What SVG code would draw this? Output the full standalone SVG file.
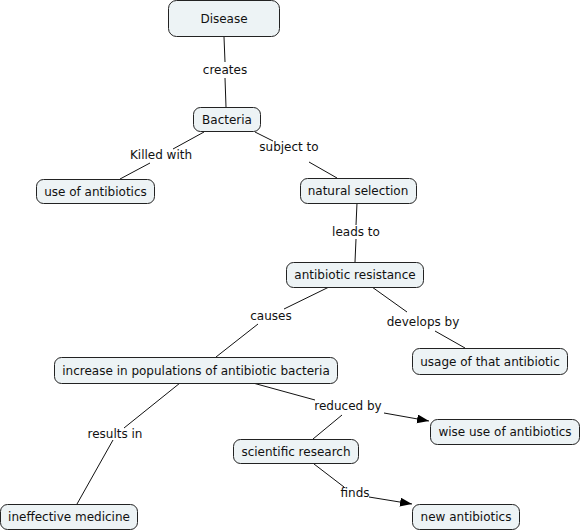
<svg xmlns="http://www.w3.org/2000/svg" width="582" height="532" viewBox="0 0 582 532">
<defs>
<style>
.node rect{fill:#edf3f5;stroke:#222;stroke-width:1}
text{font-family:"DejaVu Sans","Liberation Sans",sans-serif;font-size:12px;fill:#111;text-anchor:middle}
.conn line{stroke:#111;stroke-width:1}
</style>
<marker id="arr" markerUnits="userSpaceOnUse" markerWidth="13" markerHeight="10" refX="12" refY="4.5" orient="auto">
<path d="M0,0 L12,4.5 L0,9 z" fill="#000"/>
</marker>
</defs>
<rect width="582" height="532" fill="#fff"/>
<g id="connectors" class="conn">
<line x1="224" y1="37" x2="225" y2="62"/>
<line x1="225" y1="78" x2="226" y2="107"/>
<line x1="204" y1="132" x2="173" y2="149"/>
<line x1="150" y1="163" x2="120" y2="179"/>
<line x1="255" y1="132" x2="273" y2="141"/>
<line x1="309" y1="162" x2="337" y2="178"/>
<line x1="357" y1="203" x2="356" y2="225"/>
<line x1="356" y1="239" x2="355" y2="262"/>
<line x1="329" y1="287" x2="284" y2="309"/>
<line x1="258" y1="324" x2="216" y2="357"/>
<line x1="372" y1="287" x2="407" y2="312"/>
<line x1="435" y1="331" x2="465" y2="348"/>
<line x1="180" y1="383" x2="124" y2="428"/>
<line x1="113" y1="440" x2="77" y2="504"/>
<line x1="253" y1="383" x2="315" y2="400"/>
<line x1="384" y1="413" x2="429" y2="421" marker-end="url(#arr)"/>
<line x1="342" y1="415" x2="313" y2="439"/>
<line x1="314" y1="464" x2="344" y2="487"/>
<line x1="369" y1="497" x2="412" y2="504" marker-end="url(#arr)"/>
</g>
<g id="labels">
<text x="225" y="74">creates</text>
<text x="161" y="159">Killed with</text>
<text x="289" y="151">subject to</text>
<text x="356" y="236">leads to</text>
<text x="271" y="320">causes</text>
<text x="423" y="326">develops by</text>
<text x="115" y="438">results in</text>
<text x="348" y="410">reduced by</text>
<text x="355" y="497">finds</text>
</g>
<g id="disease" class="node"><rect x="168.5" y="0.5" width="111" height="36" rx="8"/><text x="224" y="23">Disease</text></g>
<g id="bacteria" class="node"><rect x="193.5" y="107.5" width="67" height="24" rx="7"/><text x="227" y="124">Bacteria</text></g>
<g id="use-of-antibiotics" class="node"><rect x="36.5" y="179.5" width="118" height="24" rx="7"/><text x="95.5" y="196">use of antibiotics</text></g>
<g id="natural-selection" class="node"><rect x="300.5" y="178.5" width="116" height="25" rx="7"/><text x="358" y="195">natural selection</text></g>
<g id="antibiotic-resistance" class="node"><rect x="286.5" y="262.5" width="137" height="25" rx="7"/><text x="355" y="279">antibiotic resistance</text></g>
<g id="usage" class="node"><rect x="412.5" y="348.5" width="155" height="26" rx="7"/><text x="490" y="366">usage of that antibiotic</text></g>
<g id="increase" class="node"><rect x="54.5" y="357.5" width="283" height="26" rx="7"/><text x="196" y="375">increase in populations of antibiotic bacteria</text></g>
<g id="wise-use" class="node"><rect x="430.5" y="419.5" width="149" height="25" rx="7"/><text x="505" y="436">wise use of antibiotics</text></g>
<g id="scientific-research" class="node"><rect x="233.5" y="439.5" width="125" height="24" rx="7"/><text x="296" y="456">scientific research</text></g>
<g id="ineffective-medicine" class="node"><rect x="0.5" y="504.5" width="137" height="25" rx="7"/><text x="69" y="521">ineffective medicine</text></g>
<g id="new-antibiotics" class="node"><rect x="412.5" y="504.5" width="107" height="25" rx="7"/><text x="466" y="521">new antibiotics</text></g>
</svg>
